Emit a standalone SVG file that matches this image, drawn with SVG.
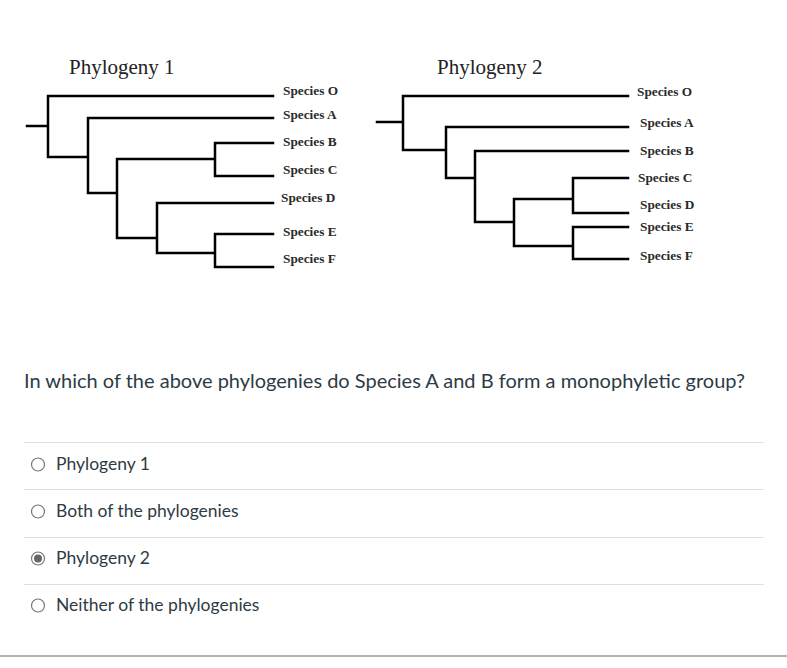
<svg xmlns="http://www.w3.org/2000/svg" width="787" height="668" viewBox="0 0 787 668">
<style>
.title{font-family:"Liberation Serif",serif;font-size:21px;fill:#222}
.sp{font-family:"Liberation Serif",serif;font-size:13.3px;fill:#2a2a2a;font-weight:bold}
.br{fill:none;stroke:#000;stroke-width:2.5;stroke-linecap:square}
.q{font-family:Lato,"Liberation Sans",sans-serif;font-size:20px;fill:#2d3b45}
.opt{font-family:Lato,"Liberation Sans",sans-serif;font-size:17.5px;fill:#2d3b45}
.sep{stroke:#e0e0e0;stroke-width:1}
.radio{fill:#fff;stroke:#777;stroke-width:1.2}
</style>
<rect width="787" height="668" fill="#fff"/>
<g id="phylogeny1">
<text class="title" x="69" y="74">Phylogeny 1</text>
<g id="tree1-connectors">
<path class="br" d="M27 126H48M48 96V157M48 96H273M48 157H88M88 118V193M88 118H273M88 193H117M117 159V238M117 159H215M215 143V176M215 143H273M215 176H273M117 238H157M157 203V253M157 203H273M157 253H215M215 234V267M215 234H273M215 267H273"/>
</g>
<text class="sp" x="283" y="95">Species O</text>
<text class="sp" x="283" y="119">Species A</text>
<text class="sp" x="283" y="146">Species B</text>
<text class="sp" x="283" y="174">Species C</text>
<text class="sp" x="281" y="202">Species D</text>
<text class="sp" x="283" y="236">Species E</text>
<text class="sp" x="283" y="263">Species F</text>
</g>
<g id="phylogeny2">
<text class="title" x="437" y="74">Phylogeny 2</text>
<g id="tree2-connectors">
<path class="br" d="M377 122H403M403 96V150M403 96H628M403 150H446M446 127V178M446 127H628M446 178H475M475 151V222M475 151H628M475 222H514M514 199V246M514 199H573M573 178V213M573 178H628M573 213H628M514 246H573M573 227V259M573 227H628M573 259H628"/>
</g>
<text class="sp" x="637" y="96">Species O</text>
<text class="sp" x="640" y="127">Species A</text>
<text class="sp" x="640" y="155">Species B</text>
<text class="sp" x="638" y="182">Species C</text>
<text class="sp" x="640" y="209">Species D</text>
<text class="sp" x="640" y="231">Species E</text>
<text class="sp" x="640" y="260">Species F</text>
</g>
<text class="q" x="24" y="388">In which of the above phylogenies do Species A and B form a monophyletic group?</text>
<g id="options">
<line class="sep" x1="24" y1="442.5" x2="764" y2="442.5"/>
<line class="sep" x1="24" y1="489.5" x2="764" y2="489.5"/>
<line class="sep" x1="24" y1="537.5" x2="764" y2="537.5"/>
<line class="sep" x1="24" y1="584.5" x2="764" y2="584.5"/>
<g id="opt1"><circle class="radio" cx="38" cy="464.5" r="6.5"/><text class="opt" x="56" y="470">Phylogeny 1</text></g>
<g id="opt2"><circle class="radio" cx="38" cy="511.5" r="6.5"/><text class="opt" x="56" y="517">Both of the phylogenies</text></g>
<g id="opt3"><circle class="radio" cx="38" cy="558.5" r="6.5"/><circle cx="38" cy="558.5" r="4" fill="#666"/><text class="opt" x="56" y="564">Phylogeny 2</text></g>
<g id="opt4"><circle class="radio" cx="38" cy="605.5" r="6.5"/><text class="opt" x="56" y="611">Neither of the phylogenies</text></g>
</g>
<line x1="0" y1="656" x2="787" y2="656" stroke="#9a9a9a" stroke-width="1.5"/>
</svg>
